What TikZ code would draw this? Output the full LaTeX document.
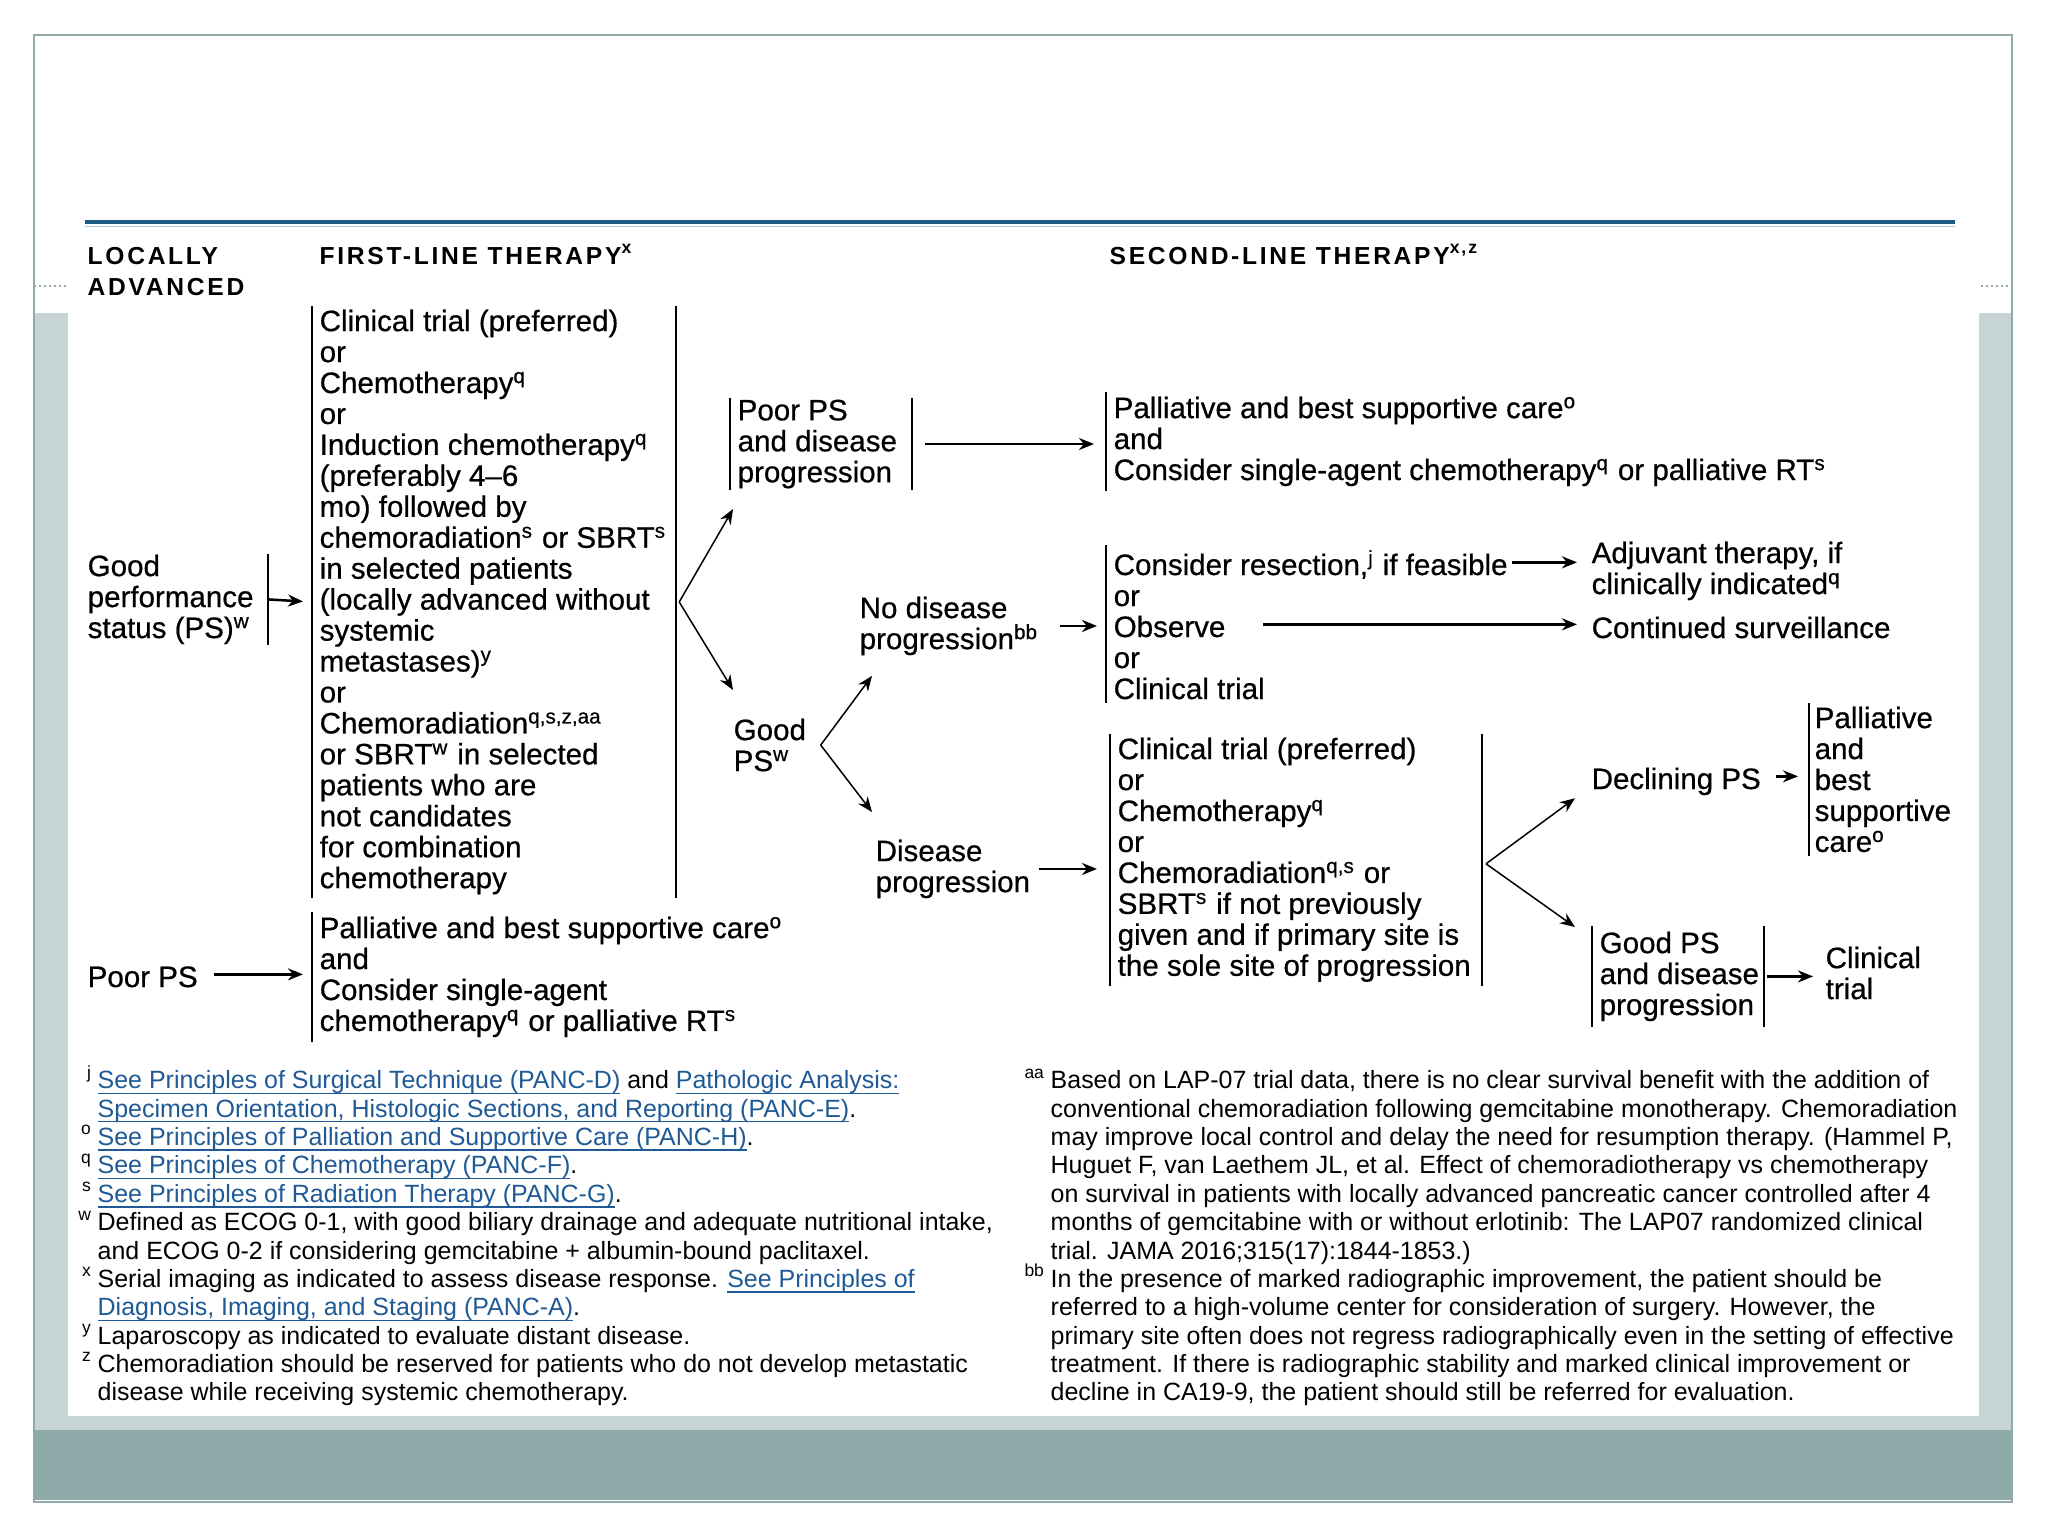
\documentclass[tikz,border=0pt]{standalone}
\usepackage{fontspec}
\setmainfont{Liberation Sans}
\newfontfamily\hdfamily[LetterSpace=11]{Liberation Sans}
\newfontfamily\diagfamily[FakeBold=0.6]{Liberation Sans}
\usetikzlibrary{arrows.meta, calc}

\definecolor{sidegray}{HTML}{C6D4D5}
\definecolor{bandgray}{HTML}{8FABA9}
\definecolor{framegray}{HTML}{93AAAA}
\definecolor{ruleblue}{HTML}{1D5A86}
\definecolor{rulelight}{HTML}{A9CDE6}
\definecolor{linkblue}{HTML}{1F5A96}

\setlength{\lineskiplimit}{-100pt}
\newcommand{\diagfont}{\diagfamily\fontsize{8.4}{8.8}\selectfont}
\newcommand{\hdfont}{\hdfamily\bfseries\fontsize{7}{8.8}\selectfont}
\newcommand{\notesfont}{\fontsize{7.1}{8.07}\selectfont}
\newcommand{\sups}[1]{\smash{\textsuperscript{#1}}}
\newcommand{\fnm}[1]{\llap{\smash{\textsuperscript{#1}}\hspace{0.5mm}}}
\newcommand{\lnk}[1]{{\color{linkblue}\setbox0=\hbox{#1}\rlap{\rule[-1.5pt]{\wd0}{0.45pt}}\box0}}

\begin{document}
\begin{tikzpicture}[x=0.01cm, y=-0.01cm,
  txt/.style={font=\diagfont, inner sep=0pt, anchor=north west, align=left},
  brk/.style={txt, inner xsep=0.7mm, inner ysep=0.3mm},
  ln/.style={font=\diagfont, inner sep=0pt, anchor=base west, text height=0.82em, text depth=0.1em},
  head/.style={font=\hdfont, inner sep=0pt, align=left},
  barline/.style={line width=0.22mm},
  arr/.style={line width=0.25mm, -{Stealth[length=1.5mm, width=1.2mm]}},
  fork/.style={arr, line width=0.15mm}]
\useasboundingbox (0,0) rectangle (2048,1536);

% slide frame and grey panel
\fill[sidegray] (34,313) rectangle (68,1430);
\fill[sidegray] (1979,313) rectangle (2012,1430);
\fill[sidegray] (34,1416) rectangle (2012,1430);
\fill[bandgray] (34,1430) rectangle (2012,1500);
\draw[framegray, line width=0.2mm] (34,35) rectangle (2012,1502);
\draw[framegray, densely dotted, line width=0.15mm] (34,286) -- (66,286) (1981,286) -- (2012,286);
\draw[ruleblue, line width=0.35mm] (85,222) -- (1955,222);
\draw[rulelight, line width=0.15mm] (85,226.5) -- (1955,226.5);

% column heads
\node[head, anchor=north west] (la) at (87,247) {LOCALLY\\ADVANCED};
\node[head, anchor=base west] (flh) at (319,264) {FIRST-LINE THERAPY\sups{x}};
\node[head, anchor=base west] (slh) at (1109,264) {SECOND-LINE THERAPY\sups{x,z}};

% first line
\node[txt] (gps) at (87,554) {Good\\performance\\status (PS)\sups{w}};
\node[brk] (fl) at (312,306) {Clinical trial (preferred)\\or\\Chemotherapy\sups{q}\\or\\Induction chemotherapy\sups{q}\\(preferably 4–6\\mo) followed by\\chemoradiation\sups{s} or SBRT\sups{s}\\in selected patients\\(locally advanced without\\systemic\\metastases)\sups{y}\\or\\Chemoradiation\sups{q,s,z,aa}\\or SBRT\sups{w} in selected\\patients who are\\not candidates\\for combination\\chemotherapy};
\draw[barline] ([xshift=18.1mm]gps.north west) -- ([xshift=18.1mm]gps.south west);
\draw[barline] (fl.north west) -- (fl.south west);
\draw[barline] ([xshift=36.4mm]fl.north west) -- ([xshift=36.4mm]fl.south west);
\draw[arr, shorten >=0.9mm] ([xshift=18.1mm]gps.west) -- (fl.west);

\node[ln] (pps) at (87,987) {Poor PS};
\node[brk, inner ysep=0.4mm] (pal1) at (312,912) {Palliative and best supportive care\sups{o}\\and\\Consider single-agent\\chemotherapy\sups{q} or palliative RT\sups{s}};
\draw[barline] (pal1.north west) -- (pal1.south west);
\draw[arr, shorten <=1.6mm, shorten >=0.9mm] (pps.east) -- (pps.east -| pal1.west);

% second line
\node[brk, inner ysep=0.1mm] (ppsd) at (730,398) {Poor PS\\and disease\\progression};
\draw[barline] (ppsd.north west) -- (ppsd.south west);
\draw[barline] ([xshift=18.2mm]ppsd.north west) -- ([xshift=18.2mm]ppsd.south west);
\node[txt] (gpsw) at (733,718) {Good\\PS\sups{w}};
\coordinate (flv) at ([xshift=36.7mm]fl.west);
\draw[fork] (flv) -- ([shift={(3,19)}]ppsd.south west);
\draw[fork] (flv) -- ([shift={(0,-28)}]gpsw.north west);

\node[brk, inner ysep=0.4mm] (pal2) at (1106,392) {Palliative and best supportive care\sups{o}\\and\\Consider single-agent chemotherapy\sups{q} or palliative RT\sups{s}};
\draw[barline] (pal2.north west) -- (pal2.south west);
\coordinate (ppsdr) at ([xshift=18.2mm]ppsd.west);
\draw[arr, shorten <=1.3mm, shorten >=1.2mm] (ppsdr) -- (ppsdr -| pal2.west);

\node[txt] (ndp) at (859,596) {No disease\\progression\sups{bb}};
\node[txt] (dp) at (875,839) {Disease\\progression};
\coordinate (gpv) at ([xshift=1.4mm]gpsw.east);
\draw[fork] (gpv) -- ([shift={(13,20)}]ndp.south west);
\draw[fork] (gpv) -- ([shift={(-3,-27)}]dp.north west);

% no progression
\node[ln] (crs) at (1113,575) {Consider resection,\sups{j} if feasible};
\node[ln] (cro1) at (1113,606) {or};
\node[ln] (obs) at (1113,637) {Observe};
\node[ln] (cro2) at (1113,668) {or};
\node[ln] (crt) at (1113,699) {Clinical trial};
\draw[barline] ([xshift=-0.7mm]crs.north west) -- ([xshift=-0.7mm]crt.south west);
\draw[arr, shorten <=2mm, shorten >=1.6mm] (ndp.east) -- (ndp.east -| crs.west);
\node[txt] (adj) at (1591,541) {Adjuvant therapy, if\\clinically indicated\sups{q}};
\node[ln] (cs) at (1591,638) {Continued surveillance};
\draw[arr, shorten <=0.4mm, shorten >=1.4mm] (crs.east) -- (crs.east -| adj.west);
\draw[arr, shorten <=3.7mm, shorten >=1.4mm] (obs.east) -- (obs.east -| cs.west);

% progression
\node[brk] (sl) at (1110,734) {Clinical trial (preferred)\\or\\Chemotherapy\sups{q}\\or\\Chemoradiation\sups{q,s} or\\SBRT\sups{s} if not previously\\given and if primary site is\\the sole site of progression};
\draw[barline] (sl.north west) -- (sl.south west);
\draw[barline] ([xshift=37.2mm]sl.north west) -- ([xshift=37.2mm]sl.south west);
\draw[arr, shorten <=0.8mm, shorten >=1.3mm] (dp.east) -- (dp.east -| sl.west);

\node[ln] (dps) at (1591,789) {Declining PS};
\node[brk, inner xsep=0.5mm] (bsc) at (1809,703) {Palliative\\and\\best\\supportive\\care\sups{o}};
\draw[barline] (bsc.north west) -- (bsc.south west);
\node[brk, inner ysep=0.5mm] (gpdp) at (1592,926) {Good PS\\and disease\\progression};
\draw[barline] (gpdp.north west) -- (gpdp.south west);
\draw[barline] ([xshift=17.2mm]gpdp.north west) -- ([xshift=17.2mm]gpdp.south west);
\node[txt] (ct) at (1825,946) {Clinical\\trial};
\coordinate (slv) at ([shift={(376,4)}]sl.west);
\draw[fork] (slv) -- ([shift={(-16,5)}]dps.south west);
\draw[fork] (slv) -- ([shift={(-17,1)}]gpdp.north west);
\draw[arr, shorten <=1.4mm, shorten >=1.1mm] (dps.east) -- (dps.east -| bsc.west);
\coordinate (gpdpr) at ([xshift=17.2mm]gpdp.west);
\draw[arr, shorten <=0.3mm, shorten >=1.2mm] (gpdpr) -- (gpdpr -| ct.west);

% footnotes
\node[txt, font=\notesfont] (notesl) at (97,1070) {\fnm{j}\lnk{See Principles of Surgical Technique (PANC-D)} and \lnk{Pathologic Analysis:}\\
\lnk{Specimen Orientation, Histologic Sections, and Reporting (PANC-E)}.\\
\fnm{o}\lnk{See Principles of Palliation and Supportive Care (PANC-H)}.\\
\fnm{q}\lnk{See Principles of Chemotherapy (PANC-F)}.\\
\fnm{s}\lnk{See Principles of Radiation Therapy (PANC-G)}.\\
\fnm{w}Defined as ECOG 0-1, with good biliary drainage and adequate nutritional intake,\\
and ECOG 0-2 if considering gemcitabine + albumin-bound paclitaxel.\\
\fnm{x}Serial imaging as indicated to assess disease response. \lnk{See Principles of}\\
\lnk{Diagnosis, Imaging, and Staging (PANC-A)}.\\
\fnm{y}Laparoscopy as indicated to evaluate distant disease.\\
\fnm{z}Chemoradiation should be reserved for patients who do not develop metastatic\\
disease while receiving systemic chemotherapy.};
\node[txt, font=\notesfont] (notesr) at (1050,1070) {\fnm{aa}Based on LAP-07 trial data, there is no clear survival benefit with the addition of\\
conventional chemoradiation following gemcitabine monotherapy. Chemoradiation\\
may improve local control and delay the need for resumption therapy. (Hammel P,\\
Huguet F, van Laethem JL, et al. Effect of chemoradiotherapy vs chemotherapy\\
on survival in patients with locally advanced pancreatic cancer controlled after 4\\
months of gemcitabine with or without erlotinib: The LAP07 randomized clinical\\
trial. JAMA 2016;315(17):1844-1853.)\\
\fnm{bb}In the presence of marked radiographic improvement, the patient should be\\
referred to a high-volume center for consideration of surgery. However, the\\
primary site often does not regress radiographically even in the setting of effective\\
treatment. If there is radiographic stability and marked clinical improvement or\\
decline in CA19-9, the patient should still be referred for evaluation.};
\end{tikzpicture}
\end{document}
